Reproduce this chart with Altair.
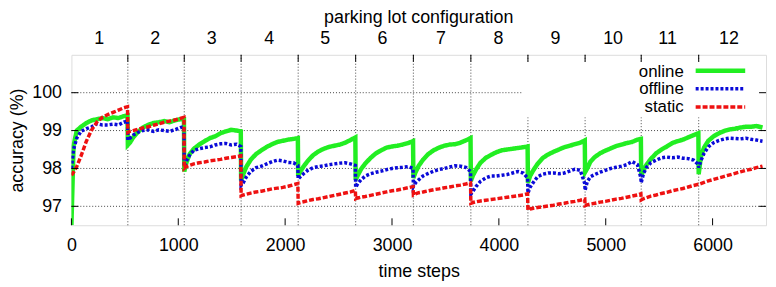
import altair as alt
import pandas as pd

# ---------------- data ----------------
boundaries = [0, 528, 1056, 1588, 2122, 2660, 3200, 3738, 4272, 4807, 5332, 5870]
offsets = [0, 20, 50, 90, 140, 190, 240, 290, 340, 390, 440, 490]
last_offsets = [0, 20, 50, 90, 140, 190, 240, 290, 340, 390, 440, 490, 540, 597]

online = [
    [96.5, 98.6, 99.0, 99.1, 99.2, 99.27, 99.3, 99.33, 99.3, 99.35, 99.33, 99.38, 99.4],
    [98.62, 98.68, 98.82, 98.95, 99.08, 99.15, 99.2, 99.22, 99.25, 99.22, 99.27, 99.3, 99.3],
    [97.92, 98.15, 98.38, 98.52, 98.63, 98.72, 98.8, 98.85, 98.93, 98.98, 99.02, 99.0, 98.98],
    [97.68, 97.85, 98.05, 98.23, 98.38, 98.48, 98.57, 98.64, 98.7, 98.73, 98.76, 98.78, 98.8],
    [97.8, 97.92, 98.05, 98.2, 98.35, 98.45, 98.52, 98.57, 98.6, 98.63, 98.68, 98.75, 98.82],
    [97.7, 97.82, 97.98, 98.13, 98.28, 98.4, 98.48, 98.55, 98.58, 98.6, 98.63, 98.67, 98.72],
    [97.75, 97.9, 98.07, 98.23, 98.38, 98.48, 98.55, 98.6, 98.63, 98.64, 98.68, 98.74, 98.8],
    [97.67, 97.82, 97.98, 98.15, 98.28, 98.36, 98.43, 98.48, 98.5, 98.52, 98.54, 98.56, 98.58],
    [97.62, 97.8, 97.95, 98.12, 98.28, 98.37, 98.44, 98.5, 98.56, 98.6, 98.64, 98.68, 98.74],
    [97.9, 98.0, 98.18, 98.3, 98.4, 98.47, 98.53, 98.59, 98.63, 98.67, 98.7, 98.76, 98.78],
    [97.8, 97.95, 98.1, 98.25, 98.4, 98.5, 98.58, 98.67, 98.72, 98.76, 98.82, 98.88, 98.93],
    [97.85, 98.3, 98.55, 98.73, 98.85, 98.93, 98.99, 99.03, 99.05, 99.08, 99.1, 99.1, 99.12, 99.08],
]
offline = [
    [98.0, 98.5, 98.8, 98.98, 99.05, 99.1, 99.18, 99.15, 99.15, 99.17, 99.15, 99.22, 99.25],
    [98.75, 98.8, 98.88, 98.95, 99.0, 99.02, 98.98, 99.02, 99.0, 98.98, 99.02, 99.08, 99.1],
    [98.05, 98.2, 98.35, 98.48, 98.52, 98.55, 98.57, 98.62, 98.65, 98.66, 98.62, 98.64, 98.58],
    [97.55, 97.62, 97.78, 97.92, 98.02, 98.06, 98.12, 98.18, 98.22, 98.2, 98.16, 98.15, 98.08],
    [97.72, 97.78, 97.86, 97.95, 98.02, 98.05, 98.07, 98.1, 98.12, 98.14, 98.15, 98.12, 98.08],
    [97.5, 97.6, 97.7, 97.8, 97.86, 97.9, 97.93, 97.97, 98.0, 98.02, 98.03, 98.05, 98.0],
    [97.52, 97.62, 97.7, 97.8, 97.87, 97.93, 97.97, 98.0, 98.04, 98.07, 98.06, 98.03, 97.92],
    [97.32, 97.4, 97.53, 97.66, 97.75, 97.8, 97.8, 97.82, 97.84, 97.88, 97.92, 97.88, 97.75],
    [97.35, 97.5, 97.63, 97.78, 97.85, 97.88, 97.88, 97.86, 97.88, 97.93, 97.98, 97.95, 97.6],
    [97.42, 97.65, 97.78, 97.84, 97.9, 97.95, 98.0, 98.03, 98.06, 98.1, 98.18, 98.1, 97.75],
    [97.62, 97.85, 98.03, 98.15, 98.22, 98.28, 98.3, 98.28, 98.3, 98.27, 98.26, 98.22, 98.1],
    [98.02, 98.2, 98.4, 98.57, 98.68, 98.74, 98.78, 98.8, 98.79, 98.78, 98.8, 98.77, 98.75, 98.72],
]
static = [
    [97.82, 97.9, 98.05, 98.33, 98.72, 99.02, 99.23, 99.35, 99.42, 99.48, 99.54, 99.6, 99.63],
    [98.95, 98.98, 99.0, 99.03, 99.07, 99.1, 99.14, 99.18, 99.22, 99.25, 99.28, 99.32, 99.35],
    [98.0, 98.05, 98.08, 98.12, 98.15, 98.17, 98.2, 98.22, 98.24, 98.27, 98.29, 98.31, 98.33],
    [97.28, 97.3, 97.32, 97.35, 97.38, 97.4, 97.43, 97.46, 97.48, 97.5, 97.53, 97.57, 97.6],
    [97.08, 97.1, 97.12, 97.15, 97.18, 97.2, 97.23, 97.26, 97.29, 97.32, 97.35, 97.38, 97.42],
    [97.2, 97.22, 97.24, 97.26, 97.29, 97.32, 97.35, 97.38, 97.41, 97.43, 97.46, 97.49, 97.52],
    [97.3, 97.33, 97.36, 97.38, 97.41, 97.44, 97.46, 97.49, 97.51, 97.54, 97.56, 97.59, 97.62],
    [97.08, 97.1, 97.12, 97.14, 97.16, 97.18, 97.2, 97.22, 97.24, 97.26, 97.28, 97.3, 97.33],
    [96.9, 96.93, 96.95, 96.97, 96.99, 97.01, 97.03, 97.06, 97.08, 97.11, 97.13, 97.16, 97.19],
    [97.02, 97.04, 97.06, 97.08, 97.11, 97.13, 97.16, 97.19, 97.21, 97.24, 97.27, 97.3, 97.33],
    [97.17, 97.2, 97.23, 97.27, 97.3, 97.34, 97.37, 97.41, 97.44, 97.47, 97.51, 97.55, 97.58],
    [97.58, 97.6, 97.63, 97.67, 97.71, 97.75, 97.79, 97.83, 97.87, 97.91, 97.95, 97.98, 98.02, 98.06],
]

x_ticks = [0, 1000, 2000, 3000, 4000, 5000, 6000]
y_ticks = [97, 98, 99, 100]
config_labels = ["1", "2", "3", "4", "5", "6", "7", "8", "9", "10", "11", "12"]
config_label_pos = [259, 785, 1313, 1851, 2376, 2910, 3457, 3997, 4529, 5069, 5579, 6154]
config_bounds = boundaries[1:]

series_names = ["online", "offline", "static"]
series_colors = ["#22ee22", "#0a0ad8", "#ee1111"]
series_dash = [[1, 0], [3, 2], [5, 2]]
series_width = [4.5, 3.5, 3.5]

# ---------------- build tables ----------------
def time_axis():
    out = []
    for k, s in enumerate(boundaries):
        if k < len(boundaries) - 1:
            out.append([s + o for o in offsets] + [boundaries[k + 1] - 3])
        else:
            out.append([s + o for o in last_offsets])
    return out

T = time_axis()

def frame(vals):
    ts, ys = [], []
    for seg_t, seg_v in zip(T, vals):
        ts += seg_t
        ys += seg_v
    return pd.DataFrame({"t": ts, "acc": ys})

W, H = 701, 172
FONT = "Liberation Sans"
xs = alt.Scale(domain=[0, 6500], nice=False, zero=False)
ys = alt.Scale(domain=[96.5, 101], nice=False, zero=False)
one = pd.DataFrame({"k": [0]})

layers = []

# horizontal grid
hgrid = alt.Chart(pd.DataFrame({"v": y_ticks})).mark_rule(
    color="#444", strokeWidth=1, strokeDash=[1, 2]
).encode(y=alt.Y("v:Q", scale=ys), x=alt.value(0), x2=alt.value(W))
layers.append(hgrid)

# vertical grid at configuration boundaries
vgrid = alt.Chart(pd.DataFrame({"b": config_bounds})).mark_rule(
    color="#444", strokeWidth=1, strokeDash=[1, 2]
).encode(x=alt.X("b:Q", scale=xs), y=alt.value(0), y2=alt.value(H))
layers.append(vgrid)

# key background
keybg = alt.Chart(one).mark_rect(fill="white").encode(
    x=alt.value(455), x2=alt.value(W - 1), y=alt.value(8), y2=alt.value(63)
)
layers.append(keybg)

# data lines
for name, vals, col, dash, sw in zip(series_names, [online, offline, static],
                                     series_colors, series_dash, series_width):
    df = frame(vals)
    ln = alt.Chart(df).mark_line(
        color=col, strokeWidth=sw, strokeDash=dash, clip=True, strokeCap="butt"
    ).encode(
        x=alt.X("t:Q", scale=xs,
                axis=alt.Axis(values=x_ticks, format="d", title="time steps", grid=False,
                              ticks=False, domain=False, labelFontSize=18,
                              labelFont=FONT, labelColor="black", labelPadding=11,
                              titleFont=FONT, titleFontSize=18, titleFontWeight="normal",
                              titleColor="black", titlePadding=9, labelFlush=False)),
        y=alt.Y("acc:Q", scale=ys,
                axis=alt.Axis(values=y_ticks, format="d", title="accuracy (%)", grid=False,
                              ticks=False, domain=False, labelFontSize=18,
                              labelFont=FONT, labelColor="black", labelPadding=10,
                              titleFont=FONT, titleFontSize=18, titleFontWeight="normal",
                              titleColor="black", titlePadding=5)),
        order="t:Q",
    )
    layers.append(ln)

# inward ticks
tick_style = dict(color="black", strokeWidth=1)
layers.append(alt.Chart(pd.DataFrame({"v": x_ticks})).mark_rule(**tick_style).encode(
    x=alt.X("v:Q", scale=xs), y=alt.value(H), y2=alt.value(H - 7)))
layers.append(alt.Chart(pd.DataFrame({"v": config_bounds})).mark_rule(**tick_style).encode(
    x=alt.X("v:Q", scale=xs), y=alt.value(0), y2=alt.value(7)))
layers.append(alt.Chart(pd.DataFrame({"v": y_ticks})).mark_rule(**tick_style).encode(
    y=alt.Y("v:Q", scale=ys), x=alt.value(0), x2=alt.value(7)))
layers.append(alt.Chart(pd.DataFrame({"v": y_ticks})).mark_rule(**tick_style).encode(
    y=alt.Y("v:Q", scale=ys), x=alt.value(W - 7), x2=alt.value(W)))

# top axis labels and title
layers.append(alt.Chart(pd.DataFrame({"p": config_label_pos, "l": config_labels})).mark_text(
    font=FONT, fontSize=18, color="black", align="center", baseline="alphabetic"
).encode(x=alt.X("p:Q", scale=xs), y=alt.value(-11), text="l:N"))
layers.append(alt.Chart(pd.DataFrame({"s": ["parking lot configuration"]})).mark_text(
    font=FONT, fontSize=18, color="black", align="center", baseline="alphabetic"
).encode(x=alt.value(W / 2), y=alt.value(-32), text="s:N"))

# key
key_text_y = [22, 40, 57.7]
key_line_y = [16, 34.3, 52.7]
for name, col, dash, sw, ty, ly in zip(series_names, series_colors, series_dash,
                                       series_width, key_text_y, key_line_y):
    layers.append(alt.Chart(pd.DataFrame({"s": [name]})).mark_text(
        font=FONT, fontSize=17, color="black", align="right", baseline="alphabetic"
    ).encode(x=alt.value(618), y=alt.value(ty), text="s:N"))
    layers.append(alt.Chart(one).mark_rule(
        color=col, strokeWidth=sw, strokeDash=dash, strokeCap="butt"
    ).encode(x=alt.value(630), x2=alt.value(680), y=alt.value(ly)))

chart = alt.layer(*layers).properties(
    width=W, height=H,
    autosize=alt.AutoSizeParams(type="none"),
    padding={"left": 64, "top": 46, "right": 2, "bottom": 55},
).configure_view(stroke="black", strokeWidth=1.2).configure(background="white")

chart.save("out.html", embed_options={"renderer": "svg", "actions": False})
